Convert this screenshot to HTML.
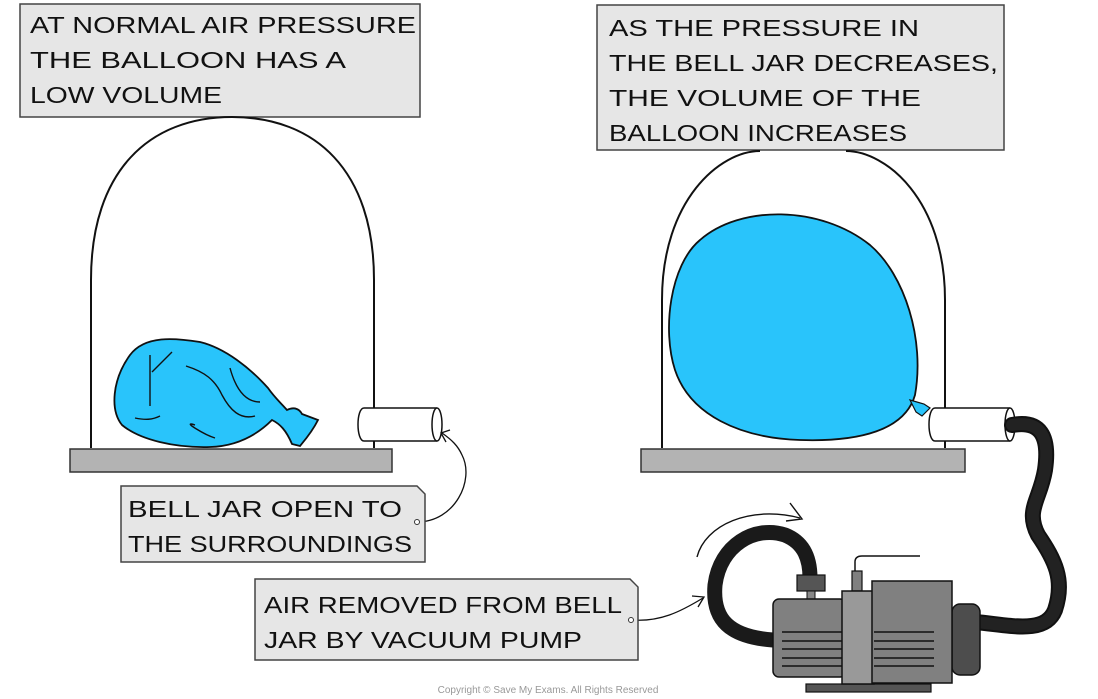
<!DOCTYPE html>
<html><head><meta charset="utf-8"><style>html,body{margin:0;padding:0;background:#fff}svg{display:block}</style></head>
<body>
<svg width="1098" height="699" viewBox="0 0 1098 699" xmlns="http://www.w3.org/2000/svg" font-family="Liberation Sans, sans-serif">
<!-- Box 1 -->
<rect x="20" y="4" width="400" height="113" fill="#e6e6e6" stroke="#444" stroke-width="1.5"/>
<g font-size="23" fill="#111">
<text x="30" y="33" textLength="386" lengthAdjust="spacingAndGlyphs">AT NORMAL AIR PRESSURE</text>
<text x="30" y="68" textLength="316" lengthAdjust="spacingAndGlyphs">THE BALLOON HAS A</text>
<text x="30" y="103" textLength="192" lengthAdjust="spacingAndGlyphs">LOW VOLUME</text>
</g>
<!-- Box 2 -->
<rect x="597" y="5" width="407" height="145" fill="#e6e6e6" stroke="#444" stroke-width="1.5"/>
<g font-size="23" fill="#111">
<text x="609" y="36" textLength="310" lengthAdjust="spacingAndGlyphs">AS THE PRESSURE IN</text>
<text x="609" y="71" textLength="389" lengthAdjust="spacingAndGlyphs">THE BELL JAR DECREASES,</text>
<text x="609" y="106" textLength="312" lengthAdjust="spacingAndGlyphs">THE VOLUME OF THE</text>
<text x="609" y="141" textLength="298" lengthAdjust="spacingAndGlyphs">BALLOON INCREASES</text>
</g>
<!-- Left jar -->
<path d="M91,448 L91,280 C91,170 150,117 232,117" fill="none" stroke="#111" stroke-width="2"/>
<path d="M232,117 C315,117 374,170 374,280 L374,448" fill="none" stroke="#111" stroke-width="2"/>
<rect x="70" y="449" width="322" height="23" fill="#b3b3b3" stroke="#333" stroke-width="1.5"/>
<!-- crumpled balloon -->
<path d="M130,355 C145,335 175,338 200,342 C225,348 250,368 268,388 C275,398 280,402 287,410 C295,406 300,410 302,414 L318,420 C312,432 305,440 300,446 L292,444 C286,430 280,424 272,420 C260,432 240,446 210,447 C175,448 140,440 122,425 C110,410 112,380 130,355 Z" fill="#29c4fb" stroke="#111" stroke-width="1.8"/>
<path d="M150,355 L150,406 M152,372 L172,352 M186,366 C205,372 215,380 222,395 C230,410 240,420 255,416 M135,418 C145,420 152,420 160,416 M195,425 C180,420 205,435 215,438 M230,368 C236,390 246,402 260,402" fill="none" stroke="#111" stroke-width="1.4"/>
<!-- left tube -->
<rect x="364" y="408" width="73" height="33" fill="#fff"/>
<path d="M364,408 L437,408 M364,441 L437,441 M364,408 C356,408 356,441 364,441" fill="none" stroke="#111" stroke-width="1.5"/>
<ellipse cx="437" cy="424.5" rx="5" ry="16.5" fill="#fff" stroke="#111" stroke-width="1.5"/>
<!-- arrow from tag -->
<path d="M417,522 C455,522 475,480 462,455 C458,446 452,440 442,433" fill="none" stroke="#111" stroke-width="1.3"/>
<path d="M450,430 L441,433 L446,442" fill="none" stroke="#111" stroke-width="1.3"/>
<!-- Tag 1 -->
<path d="M121,486 L417,486 L425,494 L425,562 L121,562 Z" fill="#e6e6e6" stroke="#444" stroke-width="1.5"/>
<circle cx="417" cy="522" r="2.5" fill="#fff" stroke="#333"/>
<g font-size="23" fill="#111">
<text x="128" y="517" textLength="274" lengthAdjust="spacingAndGlyphs">BELL JAR OPEN TO</text>
<text x="128" y="552" textLength="284" lengthAdjust="spacingAndGlyphs">THE SURROUNDINGS</text>
</g>
<!-- Right jar -->
<path d="M662,448 L662,300 C662,200 720,151 760,151" fill="none" stroke="#111" stroke-width="2"/>
<path d="M846,151 C886,151 945,200 945,300 L945,448" fill="none" stroke="#111" stroke-width="2"/>
<rect x="641" y="449" width="324" height="23" fill="#b3b3b3" stroke="#333" stroke-width="1.5"/>
<path d="M700,240 C740,205 820,205 870,245 C905,275 925,340 915,395 C905,430 860,442 800,440 C740,438 690,415 675,370 C662,330 670,265 700,240 Z" fill="#29c4fb" stroke="#111" stroke-width="1.8"/>
<path d="M910,400 L924,404 L930,408 L922,416 L916,412 Z" fill="#29c4fb" stroke="#111" stroke-width="1.2"/>
<!-- right tube -->
<rect x="935" y="408" width="75" height="33" fill="#fff"/>
<path d="M935,408 L1010,408 M935,441 L1010,441 M935,408 C927,408 927,441 935,441" fill="none" stroke="#111" stroke-width="1.5"/>
<ellipse cx="1010" cy="424.5" rx="5" ry="16.5" fill="#fff" stroke="#111" stroke-width="1.5"/>
<!-- hose right -->
<path d="M1012,425 C1040,420 1050,435 1045,470 C1040,500 1025,510 1038,535 C1055,560 1065,580 1055,610 C1045,635 1010,625 975,622" fill="none" stroke="#111" stroke-width="16" stroke-linecap="round"/>
<path d="M1012,425 C1040,420 1050,435 1045,470 C1040,500 1025,510 1038,535 C1055,560 1065,580 1055,610 C1045,635 1010,625 975,622" fill="none" stroke="#222" stroke-width="12" stroke-linecap="round"/>
<!-- hose left loop -->
<path d="M773,640 C730,637 712,620 715,585 C720,545 755,525 785,535 C805,543 810,560 810,578" fill="none" stroke="#1a1a1a" stroke-width="15"/>
<!-- rotation arrow -->
<path d="M697,557 C705,525 750,505 800,518" fill="none" stroke="#111" stroke-width="1.4"/>
<path d="M790,503 L802,519 L786,521" fill="none" stroke="#111" stroke-width="1.4"/>
<!-- pump -->
<rect x="806" y="684" width="125" height="8" fill="#555" stroke="#111" stroke-width="1.2"/>
<rect x="797" y="575" width="28" height="16" fill="#555" stroke="#111" stroke-width="1.2"/>
<rect x="807" y="591" width="8" height="8" fill="#888" stroke="#111" stroke-width="1"/>
<rect x="773" y="599" width="73" height="78" rx="6" fill="#808080" stroke="#111" stroke-width="1.5"/>
<path d="M855,571 L855,562 Q855,556 862,556 L920,556" fill="none" stroke="#111" stroke-width="1.5"/>
<rect x="852" y="571" width="10" height="20" fill="#808080" stroke="#111" stroke-width="1.2"/>
<rect x="842" y="591" width="32" height="93" fill="#999" stroke="#111" stroke-width="1.5"/>
<rect x="952" y="604" width="28" height="71" rx="8" fill="#4d4d4d" stroke="#111" stroke-width="1.5"/>
<rect x="872" y="581" width="80" height="102" fill="#808080" stroke="#111" stroke-width="1.5"/>
<g stroke="#111" stroke-width="1.5">
<path d="M782,632 L842,632 M782,641 L842,641 M782,649 L842,649 M782,658 L842,658 M782,666 L842,666"/>
<path d="M874,632 L934,632 M874,641 L934,641 M874,649 L934,649 M874,658 L934,658 M874,666 L934,666"/>
</g>
<!-- arrow from tag 2 -->
<path d="M632,620 C660,622 680,612 703,598" fill="none" stroke="#111" stroke-width="1.3"/>
<path d="M692,596 L704,597 L698,607" fill="none" stroke="#111" stroke-width="1.3"/>
<!-- Tag 2 -->
<path d="M255,579 L630,579 L638,587 L638,660 L255,660 Z" fill="#e6e6e6" stroke="#444" stroke-width="1.5"/>
<circle cx="631" cy="620" r="2.5" fill="#fff" stroke="#333"/>
<g font-size="23" fill="#111">
<text x="264" y="613" textLength="358" lengthAdjust="spacingAndGlyphs">AIR REMOVED FROM BELL</text>
<text x="264" y="648" textLength="318" lengthAdjust="spacingAndGlyphs">JAR BY VACUUM PUMP</text>
</g>
<text x="548" y="693" font-size="10" fill="#999" text-anchor="middle">Copyright © Save My Exams. All Rights Reserved</text>
</svg>
</body></html>
